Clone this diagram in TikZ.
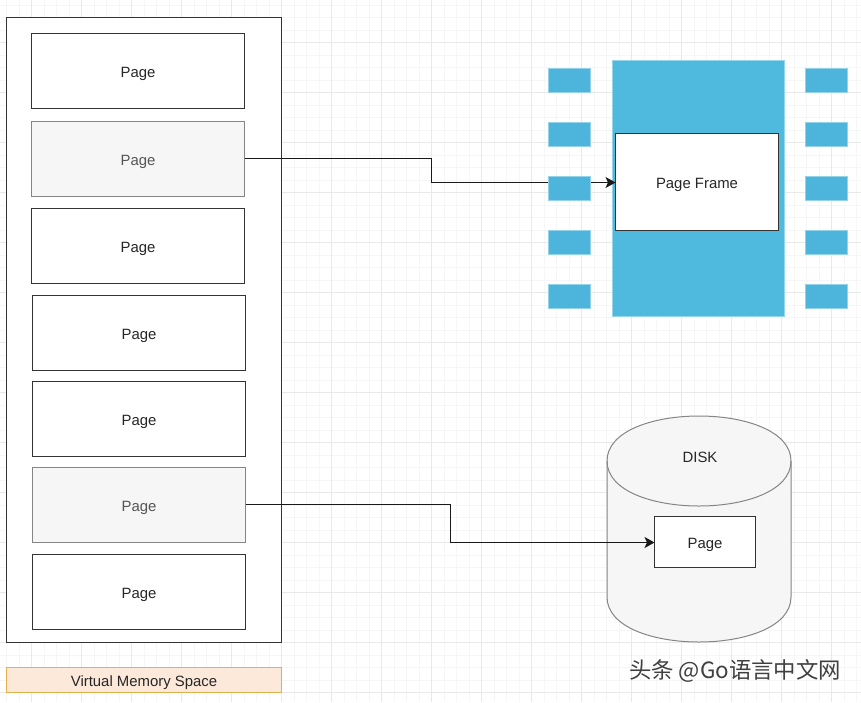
\documentclass[tikz,border=0pt]{standalone}
\usepackage{fontspec}
\setmainfont{Liberation Sans}
\newfontfamily\cjkfont{Noto Sans CJK SC}
\usetikzlibrary{arrows.meta}
\definecolor{gridmajor}{HTML}{E9E9E9}
\definecolor{gridminor}{HTML}{F6F6F6}
\definecolor{chipblue}{HTML}{50B9DE}
\definecolor{pinblue}{HTML}{4DB5DB}
\definecolor{soft}{HTML}{F6F6F6}
\definecolor{softline}{HTML}{858585}
\definecolor{softtext}{HTML}{555555}
\definecolor{notefill}{HTML}{FCE9D9}
\definecolor{noteline}{HTML}{E3B04B}
\tikzset{
  every node/.style={font=\fontsize{14.9}{17}\selectfont, inner sep=0pt, outer sep=0pt, text height=13.5pt, text depth=0.6pt},
  box/.style={draw=black!80, line width=1pt, fill=white, minimum width=#1, text=black!85},
  box/.default=213pt,
  pagebox/.style={box=213pt, minimum height=75pt},
  softbox/.style={pagebox, fill=soft, draw=softline, text=softtext},
  pin/.style={fill=pinblue, draw=pinblue!60, line width=0.8pt, minimum width=42pt, minimum height=24pt},
  link/.style={draw=black!90, line width=1.1pt, -{Stealth[length=10pt,width=11pt,inset=2.5pt]}},
  wmark/.style={font=\cjkfont\fontsize{22.4}{24}\selectfont, anchor=west, text height=16pt, text depth=4pt}
}
\begin{document}
\begin{tikzpicture}[x=1pt,y=-1pt]
\useasboundingbox (0,0) rectangle (861,702);
\fill[white] (0,0) rectangle (861,702);
% grid
\foreach \i in {0,...,69} {\draw[gridminor,line width=0.8pt] ({6.7+12.5*\i},0) -- ({6.7+12.5*\i},702);}
\foreach \i in {0,...,56} {\draw[gridminor,line width=0.8pt] (0,{5+12.5*\i}) -- (861,{5+12.5*\i});}
\foreach \i in {0,...,16} {\draw[gridmajor,line width=0.9pt] ({31.7+50*\i},0) -- ({31.7+50*\i},702);}
\foreach \i in {0,...,13} {\draw[gridmajor,line width=0.9pt] (0,{42.5+50*\i}) -- (861,{42.5+50*\i});}
% virtual memory
\node[box=275pt, minimum height=625pt] (space) at (144,330) {};
\node[draw=noteline, fill=notefill, line width=1pt, minimum width=275pt, minimum height=25pt, text=black!85] (label) at (144,680) {Virtual Memory Space};
\node[pagebox] (p1) at (138,71) {Page};
\node[softbox] (p2) at (138,159) {Page};
\node[pagebox] (p3) at (138,246) {Page};
\node[pagebox] (p4) at (139,333) {Page};
\node[pagebox] (p5) at (139,419) {Page};
\node[softbox] (p6) at (139,505) {Page};
\node[pagebox] (p7) at (139,592) {Page};
% chip
\path[fill=chipblue, draw=chipblue!60, line width=0.8pt] (612,60) rectangle (784,316);
\node[box=163pt, minimum height=97pt] (frame) at (697,182) {Page Frame};
% disk
\path[draw=softline, fill=soft, line width=1pt]
  (607,461) .. controls (607,401) and (791,401) .. (791,461) -- (791,597)
  .. controls (791,657) and (607,657) .. (607,597) -- cycle;
\draw[softline, line width=1pt] (607,461) .. controls (607,521) and (791,521) .. (791,461);
\node[text=black!85] (disk) at (700,456.3) {DISK};
\node[box=101pt, minimum height=51pt] (dpage) at (705,542) {Page};
% connectors
\draw[link] ([yshift=0.5pt]p2.east) -- ++(187,0) |- ([yshift=-0.5pt]frame.west);
\draw[link] ([yshift=0.5pt]p6.east) -- ++(205,0) |- ([yshift=-0.5pt]dpage.west);
% pins
\foreach \n/\y in {1/80.5,2/134.5,3/188,4/242.5,5/296} {
  \node[pin] (l\n) at (569,\y) {};
  \node[pin] (r\n) at (826.5,\y) {};
}
% watermark
\node[wmark, text=black!75] (wm) at (629,672) {头条 @Go语言中文网};
\end{tikzpicture}
\end{document}
